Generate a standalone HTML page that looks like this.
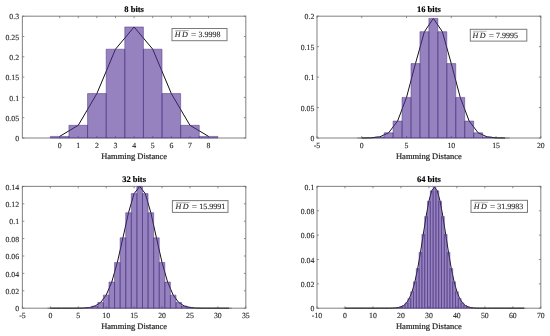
<!DOCTYPE html>
<html><head><meta charset="utf-8"><style>
html,body{margin:0;padding:0;background:#fff;width:550px;height:336px;overflow:hidden}
svg{display:block}
text{text-rendering:geometricPrecision;font-family:"Liberation Serif",serif;fill:#262626;stroke:#262626;stroke-width:0.22px}
.t{font-size:7.8px;stroke-width:0.12px}
.l{font-size:8.5px}
.ti{font-size:8.5px;font-weight:bold;fill:#000;stroke:#000;stroke-width:0.15px}
.lg{font-size:8px;stroke-width:0.12px}
.it{font-style:italic;letter-spacing:1.5px}
.it2{font-style:italic}
.eq{fill:#8a8a8a}
</style></head><body>
<svg width="550" height="336" viewBox="0 0 550 336">
<rect width="550" height="336" fill="#fff"/>
<rect x="22.4" y="16.2" width="223.4" height="121.8" fill="none" stroke="#8c8c8c" stroke-width="1.1"/>
<path d="M59.63 138v-1.9M59.63 16.2v1.9M78.25 138v-1.9M78.25 16.2v1.9M96.87 138v-1.9M96.87 16.2v1.9M115.48 138v-1.9M115.48 16.2v1.9M134.1 138v-1.9M134.1 16.2v1.9M152.72 138v-1.9M152.72 16.2v1.9M171.33 138v-1.9M171.33 16.2v1.9M189.95 138v-1.9M189.95 16.2v1.9M208.57 138v-1.9M208.57 16.2v1.9M22.4 138h1.9M245.8 138h-1.9M22.4 117.7h1.9M245.8 117.7h-1.9M22.4 97.4h1.9M245.8 97.4h-1.9M22.4 77.1h1.9M245.8 77.1h-1.9M22.4 56.8h1.9M245.8 56.8h-1.9M22.4 36.5h1.9M245.8 36.5h-1.9M22.4 16.2h1.9M245.8 16.2h-1.9" stroke="#6a6a6a" stroke-width="0.75"/>
<polyline points="59.63,136.41 78.25,125.31 96.87,93.59 115.48,49.19 134.1,26.98 152.72,49.19 171.33,93.59 189.95,125.31 208.57,136.41" fill="none" stroke="#111" stroke-width="1"/>
<path d="" stroke="#505058" stroke-width="0.6"/>
<path d="M50.33 138V136.41H68.94V138ZM68.94 138V125.31H87.56V138ZM87.56 138V93.59H106.18V138ZM106.18 138V49.19H124.79V138ZM124.79 138V26.98H143.41V138ZM143.41 138V49.19H162.03V138ZM162.03 138V93.59H180.64V138ZM180.64 138V125.31H199.26V138ZM199.26 138V136.41H217.88V138Z" fill="#502f93" fill-opacity="0.6" stroke="#4a3580" stroke-width="0.5"/>
<text x="59.63" y="147.8" class="t" text-anchor="middle">0</text>
<text x="78.25" y="147.8" class="t" text-anchor="middle">1</text>
<text x="96.87" y="147.8" class="t" text-anchor="middle">2</text>
<text x="115.48" y="147.8" class="t" text-anchor="middle">3</text>
<text x="134.1" y="147.8" class="t" text-anchor="middle">4</text>
<text x="152.72" y="147.8" class="t" text-anchor="middle">5</text>
<text x="171.33" y="147.8" class="t" text-anchor="middle">6</text>
<text x="189.95" y="147.8" class="t" text-anchor="middle">7</text>
<text x="208.57" y="147.8" class="t" text-anchor="middle">8</text>
<text x="19.1" y="141.1" class="t" text-anchor="end">0</text>
<text x="19.1" y="120.8" class="t" text-anchor="end">0.05</text>
<text x="19.1" y="100.5" class="t" text-anchor="end">0.1</text>
<text x="19.1" y="80.2" class="t" text-anchor="end">0.15</text>
<text x="19.1" y="59.9" class="t" text-anchor="end">0.2</text>
<text x="19.1" y="39.6" class="t" text-anchor="end">0.25</text>
<text x="19.1" y="19.3" class="t" text-anchor="end">0.3</text>
<text x="134.1" y="158.9" class="l" text-anchor="middle">Hamming Distance</text>
<text x="134.1" y="11.7" class="ti" text-anchor="middle">8 bits</text>
<rect x="172" y="28.5" width="55" height="12.2" fill="#fff" stroke="#7a7a7a" stroke-width="1"/>
<text x="174.8" y="36.6" class="lg it">HD</text>
<text x="190.9" y="36.6" class="lg eq" textLength="5.2" lengthAdjust="spacingAndGlyphs">=</text>
<text x="198.5" y="36.6" class="lg">3.9998</text>
<path d="M175.4 30.5h13.6" stroke="#777" stroke-width="0.5"/>
<rect x="317" y="16.2" width="223.8" height="121.8" fill="none" stroke="#8c8c8c" stroke-width="1.1"/>
<path d="M317 138v-1.9M317 16.2v1.9M361.76 138v-1.9M361.76 16.2v1.9M406.52 138v-1.9M406.52 16.2v1.9M451.28 138v-1.9M451.28 16.2v1.9M496.04 138v-1.9M496.04 16.2v1.9M540.8 138v-1.9M540.8 16.2v1.9M317 138h1.9M540.8 138h-1.9M317 107.55h1.9M540.8 107.55h-1.9M317 77.1h1.9M540.8 77.1h-1.9M317 46.65h1.9M540.8 46.65h-1.9M317 16.2h1.9M540.8 16.2h-1.9" stroke="#6a6a6a" stroke-width="0.75"/>
<polyline points="361.76,137.99 370.71,137.85 379.66,136.88 388.62,132.8 397.57,121.09 406.52,97.41 415.47,63.58 424.42,31.69 433.38,18.4 442.33,31.69 451.28,63.58 460.23,97.41 469.18,121.09 478.14,132.8 487.09,136.88 496.04,137.85 504.99,137.99" fill="none" stroke="#111" stroke-width="1"/>
<path d="M357.28 138H366.24M366.24 138H375.19M491.56 138H500.52M500.52 138H509.47" stroke="#505058" stroke-width="0.6"/>
<path d="M375.19 138V136.88H384.14V138ZM384.14 138V132.8H393.09V138ZM393.09 138V121.09H402.04V138ZM402.04 138V97.41H411V138ZM411 138V63.58H419.95V138ZM419.95 138V31.69H428.9V138ZM428.9 138V18.4H437.85V138ZM437.85 138V31.69H446.8V138ZM446.8 138V63.58H455.76V138ZM455.76 138V97.41H464.71V138ZM464.71 138V121.09H473.66V138ZM473.66 138V132.8H482.61V138ZM482.61 138V136.88H491.56V138Z" fill="#502f93" fill-opacity="0.6" stroke="#4a3580" stroke-width="0.5"/>
<text x="317" y="147.8" class="t" text-anchor="middle">-5</text>
<text x="361.76" y="147.8" class="t" text-anchor="middle">0</text>
<text x="406.52" y="147.8" class="t" text-anchor="middle">5</text>
<text x="451.28" y="147.8" class="t" text-anchor="middle">10</text>
<text x="496.04" y="147.8" class="t" text-anchor="middle">15</text>
<text x="540.8" y="147.8" class="t" text-anchor="middle">20</text>
<text x="314.3" y="141.1" class="t" text-anchor="end">0</text>
<text x="314.3" y="110.65" class="t" text-anchor="end">0.05</text>
<text x="314.3" y="80.2" class="t" text-anchor="end">0.1</text>
<text x="314.3" y="49.75" class="t" text-anchor="end">0.15</text>
<text x="314.3" y="19.3" class="t" text-anchor="end">0.2</text>
<text x="428.9" y="158.9" class="l" text-anchor="middle">Hamming Distance</text>
<text x="428.9" y="11.7" class="ti" text-anchor="middle">16 bits</text>
<rect x="470.3" y="29.3" width="56.5" height="11.8" fill="#fff" stroke="#7a7a7a" stroke-width="1"/>
<text x="472.4" y="38.3" class="lg it">HD</text>
<text x="488.8" y="38.3" class="lg eq" textLength="5.2" lengthAdjust="spacingAndGlyphs">=</text>
<text x="496" y="38.3" class="lg">7.9995</text>
<path d="M473 31.3h13.6" stroke="#777" stroke-width="0.5"/>
<rect x="22.4" y="186.4" width="223.4" height="121.8" fill="none" stroke="#8c8c8c" stroke-width="1.1"/>
<path d="M22.4 308.2v-1.9M22.4 186.4v1.9M50.33 308.2v-1.9M50.33 186.4v1.9M78.25 308.2v-1.9M78.25 186.4v1.9M106.18 308.2v-1.9M106.18 186.4v1.9M134.1 308.2v-1.9M134.1 186.4v1.9M162.03 308.2v-1.9M162.03 186.4v1.9M189.95 308.2v-1.9M189.95 186.4v1.9M217.88 308.2v-1.9M217.88 186.4v1.9M245.8 308.2v-1.9M245.8 186.4v1.9M22.4 308.2h1.9M245.8 308.2h-1.9M22.4 290.8h1.9M245.8 290.8h-1.9M22.4 273.4h1.9M245.8 273.4h-1.9M22.4 256h1.9M245.8 256h-1.9M22.4 238.6h1.9M245.8 238.6h-1.9M22.4 221.2h1.9M245.8 221.2h-1.9M22.4 203.8h1.9M245.8 203.8h-1.9M22.4 186.4h1.9M245.8 186.4h-1.9" stroke="#6a6a6a" stroke-width="0.75"/>
<polyline points="50.33,308.2 55.91,308.2 61.49,308.2 67.08,308.2 72.66,308.19 78.25,308.16 83.84,308.02 89.42,307.52 95,306.07 100.59,302.52 106.18,295.13 111.76,282.06 117.34,262.46 122.93,237.84 128.51,212.7 134.1,193.61 139.69,186.44 145.27,193.61 150.85,212.7 156.44,237.84 162.03,262.46 167.61,282.06 173.2,295.13 178.78,302.52 184.37,306.07 189.95,307.52 195.54,308.02 201.12,308.16 206.71,308.19 212.29,308.2 217.88,308.2 223.46,308.2 229.05,308.2" fill="none" stroke="#111" stroke-width="1"/>
<path d="M47.53 308.2H53.12M53.12 308.2H58.7M58.7 308.2H64.29M64.29 308.2H69.87M69.87 308.2H75.46M75.46 308.2H81.04M81.04 308.2H86.63M192.74 308.2H198.33M198.33 308.2H203.91M203.91 308.2H209.5M209.5 308.2H215.08M215.08 308.2H220.67M220.67 308.2H226.25M226.25 308.2H231.84" stroke="#505058" stroke-width="0.6"/>
<path d="M86.63 308.2V307.52H92.21V308.2ZM92.21 308.2V306.07H97.8V308.2ZM97.8 308.2V302.52H103.38V308.2ZM103.38 308.2V295.13H108.97V308.2ZM108.97 308.2V282.06H114.55V308.2ZM114.55 308.2V262.46H120.14V308.2ZM120.14 308.2V237.84H125.72V308.2ZM125.72 308.2V212.7H131.31V308.2ZM131.31 308.2V193.61H136.89V308.2ZM136.89 308.2V186.44H142.48V308.2ZM142.48 308.2V193.61H148.06V308.2ZM148.06 308.2V212.7H153.65V308.2ZM153.65 308.2V237.84H159.23V308.2ZM159.23 308.2V262.46H164.82V308.2ZM164.82 308.2V282.06H170.4V308.2ZM170.4 308.2V295.13H175.99V308.2ZM175.99 308.2V302.52H181.57V308.2ZM181.57 308.2V306.07H187.16V308.2ZM187.16 308.2V307.52H192.74V308.2Z" fill="#502f93" fill-opacity="0.6" stroke="#4a3580" stroke-width="0.5"/>
<text x="22.4" y="318" class="t" text-anchor="middle">-5</text>
<text x="50.33" y="318" class="t" text-anchor="middle">0</text>
<text x="78.25" y="318" class="t" text-anchor="middle">5</text>
<text x="106.18" y="318" class="t" text-anchor="middle">10</text>
<text x="134.1" y="318" class="t" text-anchor="middle">15</text>
<text x="162.03" y="318" class="t" text-anchor="middle">20</text>
<text x="189.95" y="318" class="t" text-anchor="middle">25</text>
<text x="217.88" y="318" class="t" text-anchor="middle">30</text>
<text x="245.8" y="318" class="t" text-anchor="middle">35</text>
<text x="19.1" y="311.3" class="t" text-anchor="end">0</text>
<text x="19.1" y="293.9" class="t" text-anchor="end">0.02</text>
<text x="19.1" y="276.5" class="t" text-anchor="end">0.04</text>
<text x="19.1" y="259.1" class="t" text-anchor="end">0.06</text>
<text x="19.1" y="241.7" class="t" text-anchor="end">0.08</text>
<text x="19.1" y="224.3" class="t" text-anchor="end">0.1</text>
<text x="19.1" y="206.9" class="t" text-anchor="end">0.12</text>
<text x="19.1" y="189.5" class="t" text-anchor="end">0.14</text>
<text x="134.1" y="329.1" class="l" text-anchor="middle">Hamming Distance</text>
<text x="134.1" y="181.9" class="ti" text-anchor="middle">32 bits</text>
<rect x="172.4" y="200.6" width="55.6" height="11.8" fill="#fff" stroke="#7a7a7a" stroke-width="1"/>
<text x="175.4" y="208.7" class="lg it">HD</text>
<text x="191.8" y="208.7" class="lg eq" textLength="5.2" lengthAdjust="spacingAndGlyphs">=</text>
<text x="199.2" y="208.7" class="lg">15.9991</text>
<path d="M176 202.6h13.6" stroke="#777" stroke-width="0.5"/>
<rect x="317" y="186.4" width="223.8" height="121.8" fill="none" stroke="#8c8c8c" stroke-width="1.1"/>
<path d="M317 308.2v-1.9M317 186.4v1.9M344.98 308.2v-1.9M344.98 186.4v1.9M372.95 308.2v-1.9M372.95 186.4v1.9M400.92 308.2v-1.9M400.92 186.4v1.9M428.9 308.2v-1.9M428.9 186.4v1.9M456.88 308.2v-1.9M456.88 186.4v1.9M484.85 308.2v-1.9M484.85 186.4v1.9M512.82 308.2v-1.9M512.82 186.4v1.9M540.8 308.2v-1.9M540.8 186.4v1.9M317 308.2h1.9M540.8 308.2h-1.9M317 283.84h1.9M540.8 283.84h-1.9M317 259.48h1.9M540.8 259.48h-1.9M317 235.12h1.9M540.8 235.12h-1.9M317 210.76h1.9M540.8 210.76h-1.9M317 186.4h1.9M540.8 186.4h-1.9" stroke="#6a6a6a" stroke-width="0.75"/>
<polyline points="344.98,308.2 347.77,308.2 350.57,308.2 353.37,308.2 356.16,308.2 358.96,308.2 361.76,308.2 364.56,308.2 367.36,308.2 370.15,308.2 372.95,308.2 375.75,308.2 378.55,308.2 381.34,308.2 384.14,308.2 386.94,308.19 389.74,308.17 392.53,308.11 395.33,307.96 398.13,307.62 400.92,306.9 403.72,305.49 406.52,302.89 409.32,298.51 412.12,291.65 414.91,281.72 417.71,268.48 420.51,252.3 423.3,234.33 426.1,216.5 428.9,201.22 431.7,190.86 434.5,187.2 437.29,190.86 440.09,201.22 442.89,216.5 445.68,234.33 448.48,252.3 451.28,268.48 454.08,281.72 456.88,291.65 459.67,298.51 462.47,302.89 465.27,305.49 468.06,306.9 470.86,307.62 473.66,307.96 476.46,308.11 479.25,308.17 482.05,308.19 484.85,308.2 487.65,308.2 490.44,308.2 493.24,308.2 496.04,308.2 498.84,308.2 501.63,308.2 504.43,308.2 507.23,308.2 510.03,308.2 512.82,308.2 515.62,308.2 518.42,308.2 521.22,308.2 524.01,308.2" fill="none" stroke="#111" stroke-width="1"/>
<path d="M343.58 308.2H346.37M346.37 308.2H349.17M349.17 308.2H351.97M351.97 308.2H354.77M354.77 308.2H357.56M357.56 308.2H360.36M360.36 308.2H363.16M363.16 308.2H365.96M365.96 308.2H368.75M368.75 308.2H371.55M371.55 308.2H374.35M374.35 308.2H377.15M377.15 308.2H379.94M379.94 308.2H382.74M382.74 308.2H385.54M385.54 308.2H388.34M388.34 308.2H391.13M391.13 308.2H393.93M393.93 308.2H396.73M472.26 308.2H475.06M475.06 308.2H477.86M477.86 308.2H480.65M480.65 308.2H483.45M483.45 308.2H486.25M486.25 308.2H489.05M489.05 308.2H491.84M491.84 308.2H494.64M494.64 308.2H497.44M497.44 308.2H500.24M500.24 308.2H503.03M503.03 308.2H505.83M505.83 308.2H508.63M508.63 308.2H511.43M511.43 308.2H514.22M514.22 308.2H517.02M517.02 308.2H519.82M519.82 308.2H522.62M522.62 308.2H525.41" stroke="#505058" stroke-width="0.6"/>
<path d="M396.73 308.2V307.62H399.53V308.2ZM399.53 308.2V306.9H402.32V308.2ZM402.32 308.2V305.49H405.12V308.2ZM405.12 308.2V302.89H407.92V308.2ZM407.92 308.2V298.51H410.72V308.2ZM410.72 308.2V291.65H413.51V308.2ZM413.51 308.2V281.72H416.31V308.2ZM416.31 308.2V268.48H419.11V308.2ZM419.11 308.2V252.3H421.91V308.2ZM421.91 308.2V234.33H424.7V308.2ZM424.7 308.2V216.5H427.5V308.2ZM427.5 308.2V201.22H430.3V308.2ZM430.3 308.2V190.86H433.1V308.2ZM433.1 308.2V187.2H435.89V308.2ZM435.89 308.2V190.86H438.69V308.2ZM438.69 308.2V201.22H441.49V308.2ZM441.49 308.2V216.5H444.29V308.2ZM444.29 308.2V234.33H447.08V308.2ZM447.08 308.2V252.3H449.88V308.2ZM449.88 308.2V268.48H452.68V308.2ZM452.68 308.2V281.72H455.48V308.2ZM455.48 308.2V291.65H458.27V308.2ZM458.27 308.2V298.51H461.07V308.2ZM461.07 308.2V302.89H463.87V308.2ZM463.87 308.2V305.49H466.67V308.2ZM466.67 308.2V306.9H469.46V308.2ZM469.46 308.2V307.62H472.26V308.2Z" fill="#502f93" fill-opacity="0.6" stroke="#4a3580" stroke-width="0.5"/>
<text x="317" y="318" class="t" text-anchor="middle">-10</text>
<text x="344.98" y="318" class="t" text-anchor="middle">0</text>
<text x="372.95" y="318" class="t" text-anchor="middle">10</text>
<text x="400.92" y="318" class="t" text-anchor="middle">20</text>
<text x="428.9" y="318" class="t" text-anchor="middle">30</text>
<text x="456.88" y="318" class="t" text-anchor="middle">40</text>
<text x="484.85" y="318" class="t" text-anchor="middle">50</text>
<text x="512.82" y="318" class="t" text-anchor="middle">60</text>
<text x="540.8" y="318" class="t" text-anchor="middle">70</text>
<text x="314.3" y="311.3" class="t" text-anchor="end">0</text>
<text x="314.3" y="286.94" class="t" text-anchor="end">0.02</text>
<text x="314.3" y="262.58" class="t" text-anchor="end">0.04</text>
<text x="314.3" y="238.22" class="t" text-anchor="end">0.06</text>
<text x="314.3" y="213.86" class="t" text-anchor="end">0.08</text>
<text x="314.3" y="189.5" class="t" text-anchor="end">0.1</text>
<text x="428.9" y="329.1" class="l" text-anchor="middle">Hamming Distance</text>
<text x="428.9" y="181.9" class="ti" text-anchor="middle">64 bits</text>
<rect x="471" y="200.3" width="56.5" height="12.1" fill="#fff" stroke="#7a7a7a" stroke-width="1"/>
<text x="473.7" y="208.9" class="lg it">HD</text>
<text x="489.9" y="208.9" class="lg eq" textLength="5.2" lengthAdjust="spacingAndGlyphs">=</text>
<text x="497.3" y="208.9" class="lg">31.9983</text>
<path d="M474.3 202.3h13.6" stroke="#777" stroke-width="0.5"/>
</svg>
</body></html>
